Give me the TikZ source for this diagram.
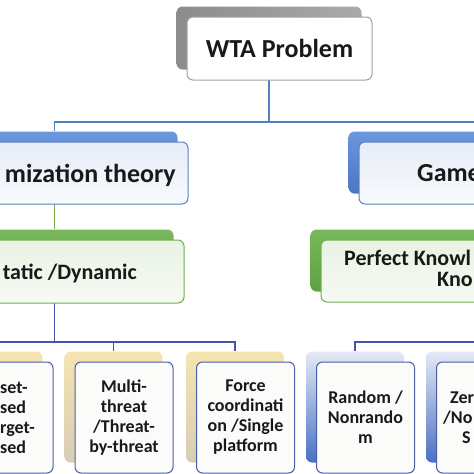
\documentclass[tikz,border=0pt]{standalone}
\usepackage{fontspec}
\setmainfont{Carlito}
\usetikzlibrary{backgrounds}

\definecolor{shGreyL}{HTML}{8C8C8C}
\definecolor{shGreyR}{HTML}{AAAAAA}
\definecolor{edgeGrey}{HTML}{A0A0A0}
\definecolor{shBlueT}{HTML}{6A97DE}
\definecolor{shBlueB}{HTML}{4A76C6}
\definecolor{edgeBlue}{HTML}{5A82C2}
\definecolor{fillBlueT}{HTML}{E6ECF6}
\definecolor{fillBlueB}{HTML}{F8FAFD}
\definecolor{shGreenT}{HTML}{78B85A}
\definecolor{shGreenB}{HTML}{5EA240}
\definecolor{edgeGreen}{HTML}{72AE4E}
\definecolor{fillGreenT}{HTML}{E9F2E3}
\definecolor{fillGreenB}{HTML}{F6FAF3}
\definecolor{shTanT}{HTML}{F6E4B0}
\definecolor{shTanB}{HTML}{D6CDB4}
\definecolor{shSkyT}{HTML}{E4EAF6}
\definecolor{shSkyB}{HTML}{4A6FC3}
\definecolor{edgeLeaf}{HTML}{4B5EA9}
\definecolor{fillLeaf}{HTML}{FBFBFA}
\definecolor{linkBlue}{HTML}{4F81BD}
\definecolor{linkGreen}{HTML}{70AD47}
\definecolor{linkLeaf}{HTML}{4753A8}

\begin{document}
\begin{tikzpicture}[x=1pt, y=-1pt,
    back/.style={rounded corners=6pt, inner sep=0pt},
    front/.style={rounded corners=6pt, inner sep=0pt, line width=1pt, align=center, text=black!90},
    boxsize/.style 2 args={minimum width=#1pt, minimum height=#2pt},
    headfont/.style={font=\fontsize{26}{30}\selectfont\bfseries},
    midfont/.style={font=\fontsize{22}{26}\selectfont\bfseries},
    leaffont/.style={font=\fontsize{18}{20}\selectfont\bfseries},
    frag/.style={inner sep=0pt, text=black!90},
    greyback/.style={back, left color=shGreyL, right color=shGreyR},
    greyfront/.style={front, draw=edgeGrey, fill=white},
    blueback/.style={back, top color=shBlueT, bottom color=shBlueB},
    bluefront/.style={front, draw=edgeBlue, top color=fillBlueT, bottom color=fillBlueB},
    greenback/.style={back, top color=shGreenT, bottom color=shGreenB},
    greenfront/.style={front, draw=edgeGreen, top color=fillGreenT, bottom color=fillGreenB},
    tanback/.style={back, boxsize={98}{111}, top color=shTanT, bottom color=shTanB},
    skyback/.style={back, boxsize={98}{111}, top color=shSkyT, bottom color=shSkyB},
    leaffront/.style={front, draw=edgeLeaf, fill=fillLeaf, boxsize={98}{111}, leaffont},
    toplink/.style={draw=linkBlue, line width=1.2pt},
    midlink/.style={draw=linkGreen, line width=1.2pt},
    leaflink/.style={draw=linkLeaf, line width=1.2pt}]

  \useasboundingbox (0,0) rectangle (474,474);
  \clip (0,0) rectangle (474,474);

  % root
  \node[greyback, boxsize={185}{63}] (wta) at (269,38) {};
  \node[greyfront, boxsize={185}{63}, headfont] (wtaf) at (279.5,48.5) {WTA Problem};

  % first level
  \node[blueback, boxsize={246}{62}] (opt) at (54.5,162.5) {};
  \node[bluefront, boxsize={246}{62}] (optf) at (65,173) {};
  \node[frag, headfont, anchor=base east] (optt) at (176,182) {mization theory};
  \node[blueback, boxsize={270}{62}] (game) at (483.5,162.5) {};
  \node[bluefront, boxsize={270}{62}] (gamef) at (494,173) {};
  \node[frag, headfont, anchor=base west] (gamet) at (417,181) {Game};

  % second level
  \node[greenback, boxsize={238}{63}] (stat) at (54.5,261) {};
  \node[greenfront, boxsize={238}{63}] (statf) at (65,271.5) {};
  \node[frag, midfont, anchor=base east] (statt) at (137,279) {tatic /Dynamic};
  \node[greenback, boxsize={346}{62}] (perf) at (483.5,260.5) {};
  \node[greenfront, boxsize={346}{62}] (perff) at (494,271) {};
  \node[frag, midfont, anchor=base west] (perft1) at (344,265) {Perfect Knowl};
  \node[frag, midfont, anchor=base west] (perft2) at (437,286) {Kno};

  % leaves
  \foreach \nm/\x/\txt in {l1/4/{}, l2/124/{Multi-\\threat\\/Threat-\\by-threat},
                          l3/245.5/{Force\\coordinati\\on /Single\\platform}} {
    \node[tanback] (\nm) at (\x-10.5,407) {};
    \node[leaffront] (\nm f) at (\x,417.5) {\txt};
  }
  \foreach \nm/\x/\txt in {l4/365.5/{Random /\\Nonrando\\m}, l5/485.5/{}} {
    \node[skyback] (\nm) at (\x-10.5,407) {};
    \node[leaffront] (\nm f) at (\x,417.5) {\txt};
  }
  \node[frag, leaffont, align=left, anchor=west] (l1t) at (0,417.5) {set-\\sed\\rget-\\sed};
  \node[frag, leaffont, anchor=base west] (l5t1) at (450,403) {Zer};
  \node[frag, leaffont, anchor=base west] (l5t2) at (443,423) {/No};
  \node[frag, leaffont, anchor=base west] (l5t3) at (462,443) {S};

  % connectors
  \begin{scope}[on background layer]
    \coordinate (bus1) at (0,122);
    \coordinate (bus2) at (0,342);
    \draw[toplink] (wta.south) -- (wta.south |- bus1);
    \draw[toplink] (opt.north) |- (game.north |- bus1) -- (game.north);
    \draw[midlink] (opt.south) -- (stat.north);
    \draw[midlink] (game.south) -- (perf.north);
    \draw[leaflink] (stat.south) -- (stat.south |- bus2);
    \draw[leaflink] (l1.north) |- (l3.north |- bus2) -- (l3.north);
    \draw[leaflink] (l2.north) -- (l2.north |- bus2);
    \draw[leaflink] (l4.north) |- (perf.south |- bus2) -- (perf.south);
    \draw[leaflink] (l5.north) -- (l5.north |- bus2);
  \end{scope}
\end{tikzpicture}
\end{document}
